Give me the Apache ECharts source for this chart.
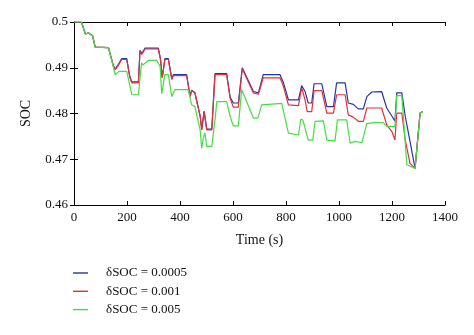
<!DOCTYPE html>
<html>
<head>
<meta charset="utf-8">
<script src="https://cdn.jsdelivr.net/npm/echarts@6/dist/echarts.min.js"></script>
<style>html,body{margin:0;padding:0;background:#fff}#c{width:474px;height:335px}</style>
</head>
<body>
<div id="c"></div>
<script>
const seriesNames = ['δSOC = 0.0005', 'δSOC = 0.001', 'δSOC = 0.005'];
const xTicks = [0, 200, 400, 600, 800, 1000, 1200, 1400];
const yTicks = [0.46, 0.47, 0.48, 0.49, 0.5];

const timeBlue = [0,28,43,55,62,70,80,130,148,155,165,180,199,210,218,243,249,256,268,318,326,333,343,356,369,375,425,438,444,456,476,482,491,501,520,532,576,589,601,620,635,677,696,714,777,790,809,847,859,872,884,897,906,935,954,979,991,1023,1035,1054,1060,1073,1092,1105,1124,1161,1180,1200,1211,1218,1237,1250,1268,1287,1291,1306,1316];
const socBlue = [0.5,0.5,0.4974,0.4976,0.4978,0.4970,0.4945,0.4944,0.4905,0.4897,0.4905,0.4920,0.4920,0.4882,0.4869,0.4869,0.4938,0.4931,0.4943,0.4943,0.4921,0.4879,0.4920,0.4920,0.4876,0.4885,0.4885,0.4838,0.4851,0.4846,0.4795,0.4766,0.4805,0.4766,0.4766,0.4887,0.4887,0.4836,0.4823,0.4823,0.4900,0.4848,0.4845,0.4885,0.4885,0.4868,0.4830,0.4830,0.4861,0.4848,0.4823,0.4823,0.4865,0.4865,0.4815,0.4815,0.4867,0.4867,0.4823,0.4820,0.4823,0.4810,0.4810,0.4837,0.4847,0.4848,0.4812,0.4794,0.4783,0.4845,0.4845,0.4794,0.4739,0.4680,0.4678,0.4801,0.4804];

const timeRed = [0,28,43,55,62,70,80,130,148,155,165,180,199,210,218,243,249,256,268,318,326,333,343,356,369,375,425,438,444,456,476,482,491,501,520,532,576,589,601,620,635,677,696,714,777,790,809,847,859,872,880,897,906,935,954,979,991,1023,1035,1054,1060,1073,1092,1105,1161,1180,1200,1211,1218,1237,1250,1268,1287,1291,1306,1316];
const socRed = [0.5,0.5,0.4974,0.4976,0.4978,0.4970,0.4945,0.4944,0.4905,0.4896,0.4903,0.4918,0.4918,0.4881,0.4867,0.4867,0.4936,0.4929,0.4941,0.4941,0.4919,0.4878,0.4918,0.4918,0.4874,0.4883,0.4883,0.4837,0.4850,0.4845,0.4794,0.4764,0.4804,0.4764,0.4764,0.4885,0.4885,0.4834,0.4814,0.4814,0.4898,0.4845,0.4842,0.4878,0.4878,0.4860,0.4819,0.4817,0.4856,0.4830,0.4804,0.4804,0.4850,0.4850,0.4801,0.4801,0.4841,0.4841,0.4797,0.4792,0.4795,0.4783,0.4783,0.4812,0.4812,0.4775,0.4760,0.4742,0.4801,0.4801,0.4742,0.4691,0.4680,0.4678,0.4801,0.4804];

const timeGreen = [0,28,43,55,62,70,80,130,148,155,170,199,210,218,243,255,260,280,312,325,331,343,356,369,381,431,444,456,476,482,488,494,501,520,532,539,576,589,601,620,633,677,694,708,714,784,809,847,856,864,884,901,910,941,954,985,994,1029,1042,1060,1067,1086,1105,1130,1167,1180,1211,1218,1237,1256,1287,1306,1316];
const socGreen = [0.5,0.5,0.4974,0.4976,0.4978,0.4970,0.4945,0.4944,0.4903,0.4885,0.4892,0.4892,0.4863,0.4841,0.4841,0.4911,0.4906,0.4916,0.4916,0.4903,0.4843,0.4885,0.4885,0.4837,0.4852,0.4852,0.4819,0.4815,0.4764,0.4724,0.4746,0.4758,0.4728,0.4728,0.4786,0.4826,0.4826,0.4794,0.4773,0.4773,0.4852,0.4790,0.4790,0.4819,0.4822,0.4822,0.4757,0.4753,0.4788,0.4785,0.4742,0.4742,0.4783,0.4784,0.4742,0.4740,0.4786,0.4786,0.4735,0.4739,0.4738,0.4736,0.4778,0.4780,0.4780,0.4772,0.4772,0.4839,0.4839,0.4688,0.4680,0.4801,0.4803];

function zip(t, v) { return t.map((x, i) => [x, v[i]]); }

const FONT = 'Liberation Serif';
const colors = ['#2634a6', '#e2303c', '#45dd45'];

const chart = echarts.init(document.getElementById('c'), null, {renderer: 'canvas'});
const axisLine = {show: true, lineStyle: {color: '#000', width: 1}};
chart.setOption({
  animation: false,
  backgroundColor: '#fff',
  grid: {left: 74, top: 22, width: 371, height: 183, containLabel: false},
  xAxis: [{
    type: 'value', min: xTicks[0], max: xTicks[xTicks.length - 1], interval: 200,
    axisLine: axisLine, splitLine: {show: false},
    axisTick: {inside: true, length: 4, lineStyle: {color: '#000'}},
    axisLabel: {color: '#111', fontFamily: FONT, fontSize: 13, margin: 6,
      formatter: v => String(v)},
    name: 'Time (s)', nameLocation: 'middle', nameGap: 28,
    nameTextStyle: {color: '#111', fontFamily: FONT, fontSize: 14}
  }, {
    type: 'value', position: 'top', min: 0, max: 1400, interval: 200,
    axisLine: axisLine, splitLine: {show: false},
    axisTick: {inside: true, length: 4, lineStyle: {color: '#000'}},
    axisLabel: {show: false}
  }],
  yAxis: [{
    type: 'value', min: yTicks[0], max: yTicks[yTicks.length - 1], interval: 0.01,
    axisLine: axisLine, splitLine: {show: false},
    axisTick: {inside: true, length: 4, lineStyle: {color: '#000'}},
    axisLabel: {color: '#111', fontFamily: FONT, fontSize: 13, margin: 6,
      formatter: v => String(+v.toFixed(2))},
    name: 'SOC', nameLocation: 'middle', nameGap: 41, nameRotate: 90,
    nameTextStyle: {color: '#111', fontFamily: FONT, fontSize: 14}
  }, {
    type: 'value', position: 'right', min: 0.46, max: 0.5, interval: 0.01,
    axisLine: axisLine, splitLine: {show: false},
    axisTick: {inside: true, length: 4, lineStyle: {color: '#000'}},
    axisLabel: {show: false}
  }],
  legend: {
    orient: 'vertical', left: 73, top: 266, padding: 0, itemWidth: 15, itemHeight: 1.4, itemGap: 4.3,
    icon: 'rect',
    textStyle: {fontFamily: FONT, fontSize: 13, color: '#111', lineHeight: 14, padding: [0, 0, 0, 13]},
    data: seriesNames
  },
  series: [
    {name: seriesNames[0], type: 'line', data: zip(timeBlue, socBlue), showSymbol: false, symbol: 'none',
     lineStyle: {color: colors[0], width: 1.2}, itemStyle: {color: colors[0]}},
    {name: seriesNames[1], type: 'line', data: zip(timeRed, socRed), showSymbol: false, symbol: 'none',
     lineStyle: {color: colors[1], width: 1.2}, itemStyle: {color: colors[1]}},
    {name: seriesNames[2], type: 'line', data: zip(timeGreen, socGreen), showSymbol: false, symbol: 'none',
     lineStyle: {color: colors[2], width: 1.2}, itemStyle: {color: colors[2]}}
  ]
});
</script>
</body>
</html>
